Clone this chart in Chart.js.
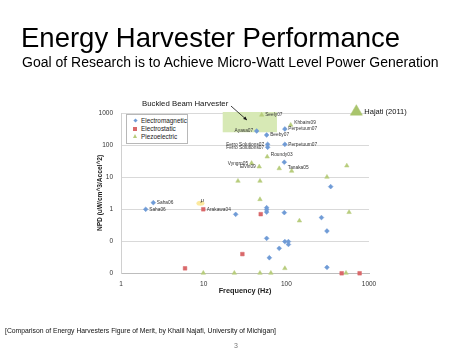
<!DOCTYPE html>
<html><head><meta charset="utf-8">
<script src="https://cdn.jsdelivr.net/npm/chart.js@4/dist/chart.umd.min.js"></script>
<style>
html,body{margin:0;padding:0;background:#fff;}
body{width:474px;height:355px;position:relative;overflow:hidden;font-family:"Liberation Sans",Arial,sans-serif;}
#c{position:absolute;left:0;top:0;}
.t{position:absolute;white-space:nowrap;color:#000;}
#title{left:21px;top:22px;font-size:27.5px;line-height:32px;}
#sub{left:22px;top:54px;font-size:14px;line-height:17px;}
#foot{left:5px;top:327px;font-size:6.8px;line-height:8px;color:#111;}
#page{left:234px;top:342px;font-size:7px;line-height:8px;color:#777;}
#legend{position:absolute;left:126px;top:114px;width:60px;height:28px;border:1px solid #b8b8b8;background:#fff;font-size:6.4px;color:#222;}
#legend div{position:absolute;left:14px;line-height:8px;white-space:nowrap;}
#legend span{position:absolute;}
</style></head>
<body>
<canvas id="c" width="474" height="355"></canvas>
<div class="t" id="title">Energy Harvester Performance</div>
<div class="t" id="sub">Goal of Research is to Achieve Micro-Watt Level Power Generation</div>
<div id="legend">
  <span style="left:7px;top:4px;width:3px;height:3px;background:#6f9bd6;transform:rotate(45deg);"></span><div style="top:2px">Electromagnetic</div>
  <span style="left:6px;top:11.5px;width:4px;height:4px;background:#d9686a;"></span><div style="top:10px">Electrostatic</div>
  <span style="left:5.5px;top:19px;width:0;height:0;border-left:2.5px solid transparent;border-right:2.5px solid transparent;border-bottom:4px solid #b7cc7c;"></span><div style="top:18px">Piezoelectric</div>
</div>
<div class="t" id="foot">[Comparison of Energy Harvesters Figure of Merit, by Khalil Najafi, University of Michigan]</div>
<div class="t" id="page">3</div>
<script>
// ---- data ----
const xTicks = [1, 10, 100, 1000];
const yTicks = [0.01, 0.1, 1, 10, 100, 1000];

const emFreq = [2.46, 1.99, 43.8, 96, 57.8, 59.4, 59.4, 96, 94.5, 344, 24.4, 57.8, 57.8, 57.8, 94.5, 266, 310, 57.8, 96, 106, 106, 82, 62.3, 310];
const emNPD  = [1.58, 0.98, 274, 316, 205, 105, 85, 105, 29, 5.0, 0.68, 1.1, 0.95, 0.8, 0.77, 0.54, 0.205, 0.121, 0.096, 0.096, 0.078, 0.059, 0.030, 0.015];

const esFreq = [9.9, 49, 29.4, 5.95, 467, 770];
const esNPD  = [0.98, 0.69, 0.039, 0.014, 0.0098, 0.0098];

const pzFreq = [50.3, 113, 58.7, 38, 47, 82, 116, 26, 48, 539, 310, 48, 574, 144, 96, 9.9, 23.5, 48, 65, 527];
const pzNPD  = [870, 422, 43, 27, 21, 18.5, 15.4, 7.5, 7.5, 22.5, 10, 2.0, 0.79, 0.43, 0.014, 0.01, 0.01, 0.01, 0.01, 0.01];

const hajatiFreq = [703];
const hajatiNPD  = [1100];

// point labels: series, index, text, side
const pointLabels = [
  ['em', 0, 'Saha06', 'r'], ['em', 1, 'Saha06', 'r'], ['em', 2, 'Ayasa07', 'l'],
  ['em', 3, 'Perpetuum07', 'r'], ['em', 4, 'Beeby07', 'r'],
  ['em', 5, 'Ferro Solutions07', 'l'], ['em', 6, 'Ferro Solutions07', 'l'],
  ['em', 7, 'Perpetuum07', 'r'], ['em', 8, 'Tanaka05', 'rd'],
  ['es', 0, 'Arakawa04', 'r'],
  ['pz', 0, 'Seely07', 'r'], ['pz', 1, 'Khbairs09', 'ru'], ['pz', 2, 'Roundy03', 'ru'],
  ['pz', 3, 'Vyngrn05', 'l'], ['pz', 4, 'Elvin09', 'l']
];

// buckled beam region and callout (data units)
const regionFreq = [17, 77];
const regionNPD = [250, 1000];
const calloutText = 'Buckled Beam Harvester';
const calloutTextAt = [5.95, 1900];
const arrowFrom = [21.4, 1650];
const arrowTo = [33.4, 600];
const hajatiText = 'Hajati (2011)';
const muMark = [9.4, 1.7];

const COL = {em: '#6f9bd6', es: '#d9686a', pz: '#b7cc7c'};
const pts = (xs, ys) => xs.map((x, i) => ({x: x, y: ys[i]}));

const annot = {
  id: 'annot',
  beforeDatasetsDraw(chart) {
    const {ctx, scales: {x, y}} = chart;
    ctx.save();
    ctx.fillStyle = '#d7e9b5';
    const x1 = x.getPixelForValue(regionFreq[0]), x2 = x.getPixelForValue(regionFreq[1]);
    const y1 = y.getPixelForValue(regionNPD[1]) - 1, y2 = y.getPixelForValue(regionNPD[0]);
    ctx.fillRect(x1, y1, x2 - x1, y2 - y1);
    ctx.restore();
  },
  afterDatasetsDraw(chart) {
    const {ctx, scales: {x, y}} = chart;
    ctx.save();
    // point labels
    ctx.font = '4.8px "Liberation Sans", Arial, sans-serif';
    ctx.fillStyle = '#333';
    ctx.textBaseline = 'middle';
    const src = {em: [emFreq, emNPD], es: [esFreq, esNPD], pz: [pzFreq, pzNPD]};
    pointLabels.forEach(([s, i, txt, side]) => {
      const px = x.getPixelForValue(src[s][0][i]);
      const py = y.getPixelForValue(src[s][1][i]);
      let dy = 0;
      if (side.indexOf('u') > 0) dy = -2;
      if (side.indexOf('d') > 0) dy = 5;
      if (side[0] === 'r') { ctx.textAlign = 'left'; ctx.fillText(txt, px + 3.5, py + dy); }
      else { ctx.textAlign = 'right'; ctx.fillText(txt, px - 3.5, py + dy); }
    });
    // mu mark
    const mx = x.getPixelForValue(muMark[0]), my = y.getPixelForValue(muMark[1]);
    ctx.fillStyle = 'rgba(250,215,80,0.55)';
    ctx.beginPath(); ctx.ellipse(mx - 1, my + 1.5, 4, 2.5, 0, 0, Math.PI * 2); ctx.fill();
    ctx.fillStyle = '#333';
    ctx.font = 'italic 6px "Liberation Sans", Arial, sans-serif';
    ctx.textAlign = 'center';
    ctx.fillText('\u03bc', mx + 1, my - 1);
    // callout
    ctx.font = '7.8px "Liberation Sans", Arial, sans-serif';
    ctx.fillStyle = '#111';
    ctx.textAlign = 'left';
    ctx.fillText(calloutText, x.getPixelForValue(calloutTextAt[0]) - 43, y.getPixelForValue(calloutTextAt[1]));
    const ax1 = x.getPixelForValue(arrowFrom[0]), ay1 = y.getPixelForValue(arrowFrom[1]);
    const ax2 = x.getPixelForValue(arrowTo[0]), ay2 = y.getPixelForValue(arrowTo[1]);
    ctx.strokeStyle = '#111'; ctx.lineWidth = 0.8;
    ctx.beginPath(); ctx.moveTo(ax1, ay1); ctx.lineTo(ax2, ay2); ctx.stroke();
    const ang = Math.atan2(ay2 - ay1, ax2 - ax1);
    ctx.fillStyle = '#111';
    ctx.beginPath();
    ctx.moveTo(ax2, ay2);
    ctx.lineTo(ax2 - 4 * Math.cos(ang - 0.45), ay2 - 4 * Math.sin(ang - 0.45));
    ctx.lineTo(ax2 - 4 * Math.cos(ang + 0.45), ay2 - 4 * Math.sin(ang + 0.45));
    ctx.closePath(); ctx.fill();
    // Hajati label
    ctx.font = '7.5px "Liberation Sans", Arial, sans-serif';
    ctx.fillStyle = '#111';
    ctx.textBaseline = 'middle';
    ctx.fillText(hajatiText, x.getPixelForValue(hajatiFreq[0]) + 8, y.getPixelForValue(hajatiNPD[0]));
    ctx.restore();
  }
};

new Chart(document.getElementById('c'), {
  type: 'scatter',
  data: {
    datasets: [
      {label: 'Electromagnetic', data: pts(emFreq, emNPD), pointStyle: 'rectRot', pointRadius: 2.4,
       backgroundColor: COL.em, borderColor: COL.em, borderWidth: 0.5, clip: false},
      {label: 'Electrostatic', data: pts(esFreq, esNPD), pointStyle: 'rect', pointRadius: 2.6,
       backgroundColor: COL.es, borderColor: COL.es, borderWidth: 0.5, clip: false},
      {label: 'Piezoelectric', data: pts(pzFreq, pzNPD), pointStyle: 'triangle', pointRadius: 2.6,
       backgroundColor: COL.pz, borderColor: COL.pz, borderWidth: 0.5, clip: false},
      {label: 'Hajati', data: pts(hajatiFreq, hajatiNPD), pointStyle: 'triangle', pointRadius: 7,
       backgroundColor: '#a9c46c', borderColor: '#a9c46c', borderWidth: 0.5, clip: false}
    ]
  },
  options: {
    responsive: false, animation: false, devicePixelRatio: 1,
    layout: {padding: {left: 96, right: 105, top: 113, bottom: 60}},
    plugins: {legend: {display: false}, tooltip: {enabled: false}},
    scales: {
      x: {
        type: 'logarithmic', min: 1, max: 1000,
        afterBuildTicks: s => { s.ticks = xTicks.map(v => ({value: v})); },
        afterFit: s => { s.height = 22; },
        ticks: {callback: v => String(v), padding: 7, color: '#333', maxRotation: 0,
                font: {size: 6.5, family: '"Liberation Sans", Arial, sans-serif'}},
        grid: {display: false, drawTicks: false},
        border: {display: true, color: '#bdbdbd', width: 1},
        title: {display: true, text: 'Frequency (Hz)', color: '#222', padding: 0,
                font: {size: 7.3, weight: 'bold', family: '"Liberation Sans", Arial, sans-serif'}}
      },
      y: {
        type: 'logarithmic', min: 0.01, max: 1000,
        afterBuildTicks: s => { s.ticks = yTicks.map(v => ({value: v})); },
        afterFit: s => { s.width = 25; },
        ticks: {callback: v => (v >= 1 ? String(v) : '0'), padding: 8, color: '#333',
                font: {size: 6.5, family: '"Liberation Sans", Arial, sans-serif'}},
        grid: {color: '#d9d9d9', lineWidth: 1, drawTicks: false},
        border: {display: true, color: '#d0d0d0', width: 1},
        title: {display: true, text: 'NPD (uW/cm^3/Accel^2)', color: '#222', padding: 0,
                font: {size: 6.6, weight: 'bold', family: '"Liberation Sans", Arial, sans-serif'}}
      }
    }
  },
  plugins: [annot]
});
</script>
</body></html>
